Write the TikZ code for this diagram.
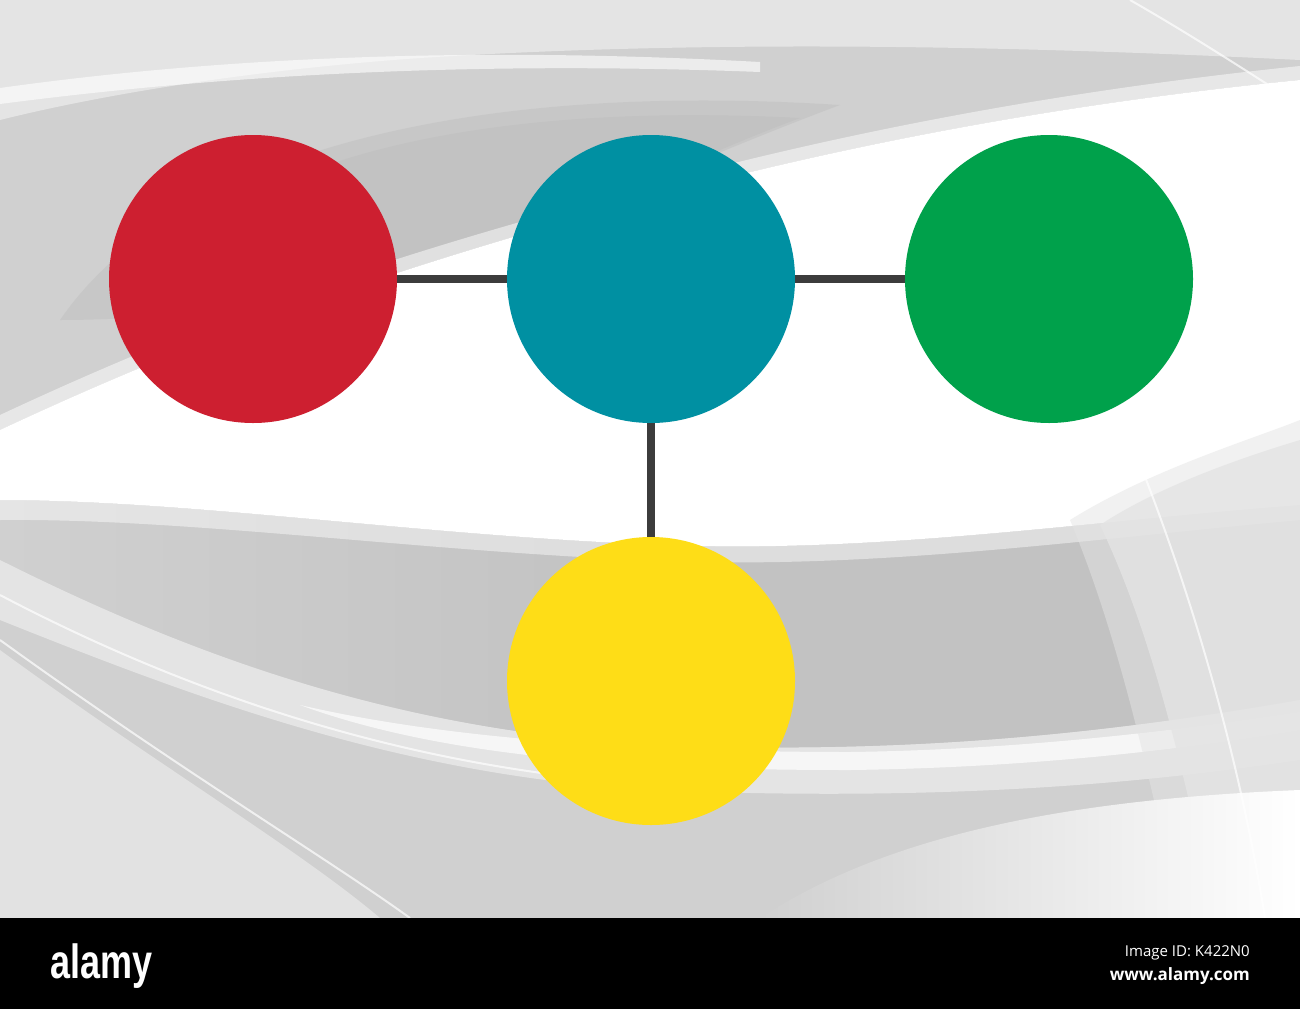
\documentclass[tikz,border=0pt]{standalone}
\usepackage{fontspec}
\setmainfont{Liberation Sans}
\newfontfamily\opensans{Open Sans}
\usetikzlibrary{fadings}
\definecolor{cred}{HTML}{CD1F30}
\definecolor{cteal}{HTML}{0090A2}
\definecolor{cgreen}{HTML}{00A14B}
\definecolor{cyellow}{HTML}{FEDD17}
\definecolor{cline}{HTML}{3C3C3C}
\definecolor{bgbase}{HTML}{D0D0D0}
\definecolor{bgdark}{HTML}{C2C2C2}
\definecolor{bglight}{HTML}{E4E4E4}
\definecolor{bgpale}{HTML}{EEEEEE}
\tikzset{
  disc/.style={circle, minimum size=288pt, inner sep=0pt, draw=none},
  link/.style={draw=cline, line width=8pt},
  streak/.style={draw=white, line width=2pt, opacity=0.7},
  foot/.style={text=white, inner sep=0pt}
}
\begin{document}
\begin{tikzpicture}[x=1pt,y=-1pt]
\useasboundingbox (0,0) rectangle (1300,1009);
% ---------- background ----------
\fill[bgbase] (0,0) rectangle (1300,918);
% top light region
\fill[bglight] (0,0) -- (1300,0) -- (1300,60) .. controls (1000,45) and (700,40) .. (420,58)
  .. controls (250,70) and (100,95) .. (0,120) -- cycle;
\fill[white, opacity=0.6] (0,88) .. controls (200,60) and (450,45) .. (760,62)
  -- (760,72) .. controls (450,60) and (200,78) .. (0,104) -- cycle;
% darker upper swirl (soft)
\fill[bgdark, opacity=0.6] (60,320) .. controls (170,160) and (450,80) .. (840,105)
  .. controls (720,150) and (610,200) .. (520,235) .. controls (350,300) and (180,320) .. (60,320) -- cycle;
\fill[bgdark] (150,280) .. controls (230,170) and (450,100) .. (800,118)
  .. controls (700,155) and (600,205) .. (520,240) .. controls (380,290) and (250,290) .. (150,280) -- cycle;
% lower gray band (darker, fading in from the left)
\shade[left color=bgbase, right color=bgdark, middle color=bgdark]
  (0,500) .. controls (200,500) and (450,540) .. (700,546)
  .. controls (900,550) and (1100,520) .. (1300,505) -- (1300,700)
  .. controls (1100,735) and (900,755) .. (650,745)
  .. controls (400,730) and (200,660) .. (0,560) -- cycle;
% central white band
\fill[white] (0,430) .. controls (150,360) and (300,300) .. (520,235)
  .. controls (750,165) and (1000,110) .. (1300,80) -- (1300,505)
  .. controls (1100,520) and (900,550) .. (700,546)
  .. controls (450,540) and (200,500) .. (0,500) -- cycle;
\fill[white, opacity=0.5] (0,415) .. controls (150,345) and (300,285) .. (520,222)
  .. controls (750,152) and (1000,97) .. (1300,66) -- (1300,80)
  .. controls (1000,110) and (750,165) .. (520,235)
  .. controls (300,300) and (150,360) .. (0,430) -- cycle;
\fill[white, opacity=0.45] (0,500) .. controls (200,500) and (450,540) .. (700,546)
  .. controls (900,550) and (1100,520) .. (1300,505) -- (1300,520)
  .. controls (1100,538) and (900,566) .. (700,562)
  .. controls (450,556) and (200,518) .. (0,520) -- cycle;
% lower light swirl
\fill[bglight] (0,560) .. controls (200,660) and (400,730) .. (650,745)
  .. controls (900,755) and (1100,735) .. (1300,700) -- (1300,760)
  .. controls (1100,790) and (900,800) .. (650,790)
  .. controls (400,775) and (200,700) .. (0,620) -- cycle;
\fill[white, opacity=0.7] (300,705) .. controls (450,740) and (650,752) .. (850,752)
  .. controls (1000,750) and (1150,735) .. (1300,712) -- (1300,730)
  .. controls (1150,755) and (1000,768) .. (850,770)
  .. controls (650,770) and (450,760) .. (300,705) -- cycle;
% right light region
\fill[bglight, opacity=0.5] (1300,420) -- (1300,918) -- (1180,918) .. controls (1150,780) and (1120,640) .. (1070,520)
  .. controls (1150,470) and (1250,440) .. (1300,420) -- cycle;
\fill[bglight, opacity=0.8] (1300,440) -- (1300,918) -- (1215,918) .. controls (1185,780) and (1155,640) .. (1100,525)
  .. controls (1160,485) and (1250,455) .. (1300,440) -- cycle;
\shade[left color=bgbase, right color=white] (760,918) .. controls (880,840) and (1050,800) .. (1300,790) -- (1300,918) -- cycle;
% lower left lighter
\fill[bgpale, opacity=0.6] (0,650) .. controls (150,760) and (300,850) .. (380,918) -- (0,918) -- cycle;
% streaks
\draw[streak] (1100,370) .. controls (1160,500) and (1230,700) .. (1265,918);
\draw[streak] (1130,0) .. controls (1200,40) and (1260,80) .. (1300,105);
\draw[streak] (0,640) .. controls (180,770) and (330,860) .. (410,918);
\draw[streak] (0,595) .. controls (200,700) and (400,760) .. (600,780);
% ---------- diagram ----------
\node[disc, fill=cred]    (r) at (253,279) {};
\node[disc, fill=cteal]   (t) at (651,279) {};
\node[disc, fill=cgreen]  (g) at (1049,279) {};
\node[disc, fill=cyellow] (y) at (651,681) {};
\draw[link] (r) -- (t);
\draw[link] (t) -- (g);
\draw[link] (t) -- (y);
% ---------- footer ----------
\fill[black] (0,918) rectangle (1300,1009);
\node[foot, anchor=base west] (logo) at (50,978)
  {\scalebox{0.75}[1]{\fontsize{48}{48}\selectfont\bfseries alamy}};
\node[foot, anchor=base east] (imgid) at (1250,956)
  {\opensans\fontsize{15}{15}\selectfont Image ID: K422N0};
\node[foot, anchor=base east] (www) at (1250,980)
  {\opensans\fontsize{17}{17}\selectfont\bfseries www.alamy.com};
\end{tikzpicture}
\end{document}
